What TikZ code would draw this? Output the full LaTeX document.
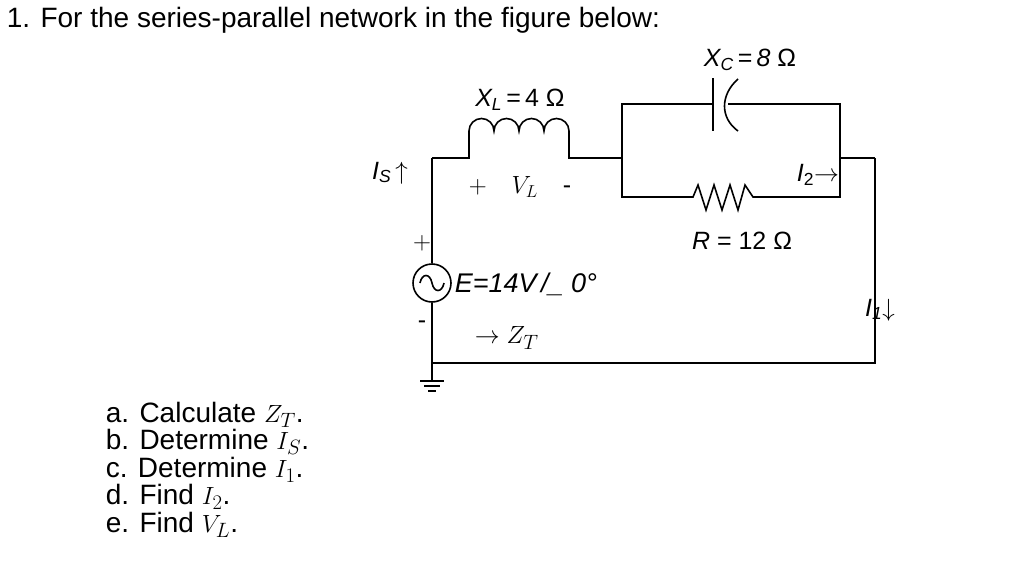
\documentclass[tikz,border=0pt]{standalone}
\usepackage{fontspec}
\setmainfont{Liberation Sans}
\usetikzlibrary{positioning}
\begin{document}
\begin{tikzpicture}
	[
	x=1pt, y=-1pt, font=\fontsize{25}{28}\selectfont, line width=1.6pt,
	lbl/.style={inner sep=1pt},
	%Listeneintraege
	item/.style={anchor=west, inner sep=0pt, font=\fontsize{28}{32}\selectfont}
	]
	\useasboundingbox (0,0) rectangle (1024,578);

	%Eckpunkte
	\coordinate (tl) at (432,158);
	\coordinate (bl) at (432,363);
	\coordinate (br) at (875,363);
	\coordinate (tr) at (875,158);
	\coordinate (pl) at (622,158);
	\coordinate (pr) at (840,158);
	\coordinate (cl) at (622,104);
	\coordinate (cr) at (840,104);
	\coordinate (rl) at (622,197);
	\coordinate (rr) at (840,197);
	\coordinate (src) at (432,283);

	%Quelle
	\node[circle, draw, minimum size=38pt, inner sep=0pt] (E) at (src) {};
	\draw ([xshift=-12pt]E.center) .. controls ([xshift=-10pt,yshift=10pt]E.center) and ([xshift=-2pt,yshift=10pt]E.center) .. (E.center)
		.. controls ([xshift=2pt,yshift=-10pt]E.center) and ([xshift=10pt,yshift=-10pt]E.center) .. ([xshift=12pt]E.center);

	%Spule
	\coordinate (la) at (469,158);
	\coordinate (lb) at (569,158);
	\draw (tl) -- (la) -- ++(0,-27) arc (180:360:12.5) arc (180:360:12.5) arc (180:360:12.5) arc (180:360:12.5) -- (lb) -- (pl);

	%Kondensator
	\coordinate (ca) at (713,104);
	\coordinate (cb) at (728,104);
	\draw (pl) -- (cl) -- (ca);
	\draw (ca) ++(0,-26) -- ++(0,53);
	\draw (738,79) .. controls (720,95) and (720,118) .. (738,131);
	\draw (cb) -- (cr) -- (pr) -- (tr);

	%Widerstand
	\coordinate (ra) at (693,197);
	\coordinate (rb) at (753,197);
	\draw (pl) -- (rl) -- (ra) -- (698,185) -- (706,210) -- (714,185) -- (722,210) -- (730,185) -- (738,210) -- (745,185) -- (rb) -- (rr) -- (pr);

	%Rueckleiter
	\draw (tl) -- (E.north);
	\draw (E.south) -- (bl) -- (br) -- (tr);

	%Erde
	\draw (bl) -- ++(0,18) coordinate (g);
	\draw ([xshift=-12pt]g) -- ([xshift=12pt]g);
	\draw ([xshift=-8pt,yshift=-5pt]g) -- ([xshift=8pt,yshift=-5pt]g);
	\draw ([xshift=-4pt,yshift=-10pt]g) -- ([xshift=4pt,yshift=-10pt]g);

	%Beschriftungen
	\node[lbl] (XL) at (520,100) {\textit{X\textsubscript{L}}\,=\,4 Ω};
	\node[lbl] (XC) at (750,60) {\textit{X\textsubscript{C}}\,=\,\textit{8} Ω};
	\node[lbl] (R) at (742,241) {\textit{R} = 12 Ω};
	\node[lbl] (Is) at (390,173) {\textit{I\textsubscript{S}}\,$\uparrow$};
	\node[lbl] (I2) at (818,175) {\textit{I}\textsubscript{2}$\rightarrow$};
	\node[lbl] (I1) at (880,310) {\textit{I\textsubscript{1}}$\downarrow$};
	\node[lbl] (VL) at (520,187) {$+$\quad $V_L$\quad -};
	\node[lbl] (plus) at (422,243) {$+$};
	\node[lbl] (minus) at (422,325) {-};
	\node[lbl, anchor=west, font=\fontsize{27}{30}\selectfont] (Elbl) at (453,284) {\textit{E=14V\,/\_\ 0°}};
	\node[lbl, anchor=west, font=\fontsize{30}{34}\selectfont] (ZT) at (473,338) {$\rightarrow Z_T$};

	%Aufgaben
	\node[item] (title) at (6,20) {1. For the series-parallel network in the figure below:};
	\node[item] (a) at (105,415) {a. Calculate $Z_T$.};
	\node[item] (b) at (105,442) {b. Determine $I_S$.};
	\node[item] (c) at (105,470) {c. Determine $I_1$.};
	\node[item] (d) at (105,497) {d. Find $I_2$.};
	\node[item] (e) at (105,525) {e. Find $V_L$.};
\end{tikzpicture}
\end{document}
